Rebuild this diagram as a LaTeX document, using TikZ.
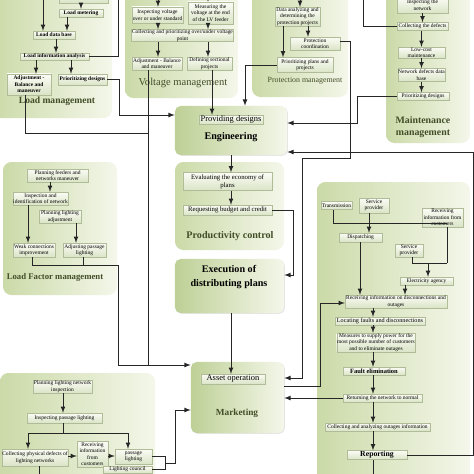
\documentclass[tikz,border=0pt]{standalone}
\usepackage{fontspec}
\setmainfont{Liberation Serif}
\usetikzlibrary{shapes,arrows,positioning,shadows}
\definecolor{gD}{RGB}{203,218,168}
\definecolor{gL}{RGB}{244,247,234}
\definecolor{mD}{RGB}{190,208,150}
\definecolor{bT}{RGB}{251,252,246}
\definecolor{bB}{RGB}{218,228,198}
\definecolor{bE}{RGB}{176,188,152}
\definecolor{tC}{RGB}{66,78,40}
\definecolor{lC}{RGB}{38,38,38}
\tikzstyle{grp}=[rounded corners=6pt,left color=gD,right color=gL]
\tikzstyle{main}=[rectangle,rounded corners=4pt,left color=mD,right color=gL,drop shadow={opacity=0.2,shadow xshift=0.6pt,shadow yshift=-0.6pt}]
\tikzstyle{box}=[rectangle,draw=bE,line width=0.3pt,top color=bT,bottom color=bB,align=center,inner sep=0.3pt,font=\fontsize{3.9}{4.6}\selectfont,drop shadow={opacity=0.25,shadow xshift=0.4pt,shadow yshift=-0.4pt}]
\tikzstyle{bbox}=[box,font=\fontsize{3.9}{4.6}\selectfont\bfseries]
\tikzstyle{ttl}=[text=tC,align=center,inner sep=0pt]
\tikzstyle{arr}=[-latex,line width=0.55pt,draw=lC]
\tikzstyle{ln}=[line width=0.55pt,draw=lC]

\begin{document}
\begin{tikzpicture}[x=0.025cm,y=-0.025cm]
\useasboundingbox (0,0) rectangle (474,474);
\clip (0,0) rectangle (474,474);
\fill[white] (0,0) rectangle (474,474);

% groups
\path[grp] (-8,-14) rectangle (112,118);
\path[grp] (125,-14) rectangle (238,98);
\path[grp] (252,-14) rectangle (348,97);
\path[grp] (386,-14) rectangle (470,143);
\path[grp] (175,162) rectangle (284,250);
\path[grp] (3,162) rectangle (117,295);
\path[grp] (0,373) rectangle (155,495);
\path[grp] (317,182) rectangle (470,495);

% load management
\node[bbox,minimum width=1.225cm,minimum height=0.375cm] (lm0) at (83.5,-4.5) {};
\node[bbox,minimum width=1.1cm,minimum height=0.2cm] (lmeter) at (81,13) {Load metering};
\node[bbox,minimum width=1.05cm,minimum height=0.2cm] (lmdb) at (54,35) {Load data base};
\node[bbox,minimum width=1.725cm,minimum height=0.175cm] (lmanal) at (54.5,56.5) {Load information analysis};
\node[bbox,minimum width=1.1cm,minimum height=0.525cm] (lmadj) at (29,84.5) {Adjustment -\\Balance and\\maneuver};
\node[bbox,minimum width=1.225cm,minimum height=0.275cm] (lmprio) at (82.5,79.5) {Prioritizing designs};
\node[ttl,font=\fontsize{6.8}{8}\selectfont\bfseries] (lmttl) at (57,101) {Load management};

% voltage management
\node[box,minimum width=1.275cm,minimum height=0.4cm] (vinsp) at (157.5,15) {Inspecting voltage\\over or under standard};
\node[box,minimum width=1.125cm,minimum height=0.55cm] (vmeas) at (210.5,13) {Measuring the\\voltage at the end\\of the LV feeder};
\node[box,minimum width=2.525cm,minimum height=0.3cm] (vcoll) at (182.5,35.5) {Collecting and prioritizing over/under voltage\\point};
\node[box,minimum width=1.25cm,minimum height=0.325cm] (vadj) at (157,63.5) {Adjustment - Balance\\and maneuver};
\node[box,minimum width=1.125cm,minimum height=0.325cm] (vdef) at (209.5,63.5) {Defining sectional\\projects};
\node[ttl,font=\fontsize{7.5}{9}\selectfont] (vttl) at (183,83) {Voltage management};

% protection management
\node[box,minimum width=1.125cm,minimum height=0.425cm] (pdata) at (297.5,16.5) {Data analyzing and\\determining the\\protection projects};
\node[box,minimum width=1.25cm,minimum height=0.325cm] (pcoord) at (315,43.5) {Protection\\coordination};
\node[box,minimum width=1.4cm,minimum height=0.375cm] (pprio) at (305,65) {Prioritizing plans and\\projects};
\node[ttl,font=\fontsize{5.6}{7}\selectfont] (pttl) at (305,81) {Protection management};

% maintenance management
\node[box,minimum width=1.275cm,minimum height=0.4cm] (mtop) at (422.5,5) {Inspecting the\\network};
\node[box,minimum width=1.275cm,minimum height=0.2cm] (mcoll) at (422.5,26.5) {Collecting the defects};
\node[box,minimum width=1.175cm,minimum height=0.275cm] (mlow) at (421.5,52.5) {Low-cost\\maintenance};
\node[box,minimum width=1.175cm,minimum height=0.325cm] (mnet) at (421.5,75) {Network defects data\\base};
\node[box,minimum width=1.3cm,minimum height=0.2cm] (mprio) at (423,96.5) {Prioritizing designs};
\node[ttl,font=\fontsize{7}{9}\selectfont\bfseries] (mttl) at (423,127) {Maintenance\\management};

% engineering, productivity, execution, marketing
\node[main,minimum width=2.8cm,minimum height=1.225cm] (eng) at (231,130.5) {};
\node[box,font=\fontsize{6}{7}\selectfont,minimum width=1.6cm,minimum height=0.225cm] (provdes) at (231,119.5) {Providing designs};
\node[ttl,text=black,font=\fontsize{7.2}{9}\selectfont\bfseries] (engttl) at (231,137) {Engineering};

\node[box,font=\fontsize{4.8}{5.8}\selectfont,minimum width=2.225cm,minimum height=0.45cm] (peval) at (227.5,181.5) {Evaluating the economy of\\plans};
\node[box,font=\fontsize{4.8}{5.8}\selectfont,minimum width=2.225cm,minimum height=0.25cm] (preq) at (227.5,210) {Requesting budget and credit};
\node[ttl,font=\fontsize{7.2}{9}\selectfont\bfseries] (pcttl) at (230,236) {Productivity control};

\node[main,minimum width=2.725cm,minimum height=1.35cm] (exec) at (229.5,286) {};
\node[ttl,text=black,font=\fontsize{7.2}{9.5}\selectfont\bfseries] (execttl) at (229,277) {Execution of\\distributing plans};

\node[main,minimum width=2.325cm,minimum height=1.775cm] (mkt) at (237.5,397.5) {};
\node[box,font=\fontsize{6}{7}\selectfont,minimum width=1.6cm,minimum height=0.25cm] (asset) at (233,379) {Asset operation};
\node[ttl,font=\fontsize{6.6}{8}\selectfont\bfseries] (mkttl) at (237,413) {Marketing};

% load factor management
\node[box,minimum width=1.525cm,minimum height=0.325cm] (lfplan) at (57.5,175.5) {Planning feeders and\\networks maneuver};
\node[box,minimum width=1.375cm,minimum height=0.325cm] (lfinsp) at (40.5,198.5) {Inspection and\\identification of network};
\node[box,minimum width=1.05cm,minimum height=0.325cm] (lflight) at (60,216.5) {Planning lighting\\adjustment};
\node[box,minimum width=1.05cm,minimum height=0.35cm] (lfweak) at (34,250) {Weak connections\\improvement};
\node[box,minimum width=1.075cm,minimum height=0.35cm] (lfadj) at (84.5,250) {Adjusting passage\\lighting};
\node[ttl,font=\fontsize{6.2}{8}\selectfont\bfseries] (lfttl) at (55,277) {Load Factor management};

% passage lighting
\node[box,minimum width=1.475cm,minimum height=0.325cm] (blplan) at (62.5,386.5) {Planning lighting network\\inspection};
\node[box,minimum width=1.875cm,minimum height=0.25cm] (blinsp) at (64.5,418) {Inspecting passage lighting};
\node[box,minimum width=1.6cm,minimum height=0.425cm] (blcoll) at (35,457.5) {Collecting physical defects of\\lighting networks};
\node[box,minimum width=0.775cm,minimum height=0.65cm] (blrecv) at (92.5,454) {Receiving\\information\\from\\customers};
\node[box,minimum width=0.925cm,minimum height=0.375cm] (blpass) at (133.5,456.5) {passage\\lighting};
\node[box,minimum width=1.225cm,minimum height=0.175cm] (blcoun) at (127.5,469.5) {Lighting council};

% outage management
\node[box,minimum width=0.775cm,minimum height=0.2cm] (rtrans) at (336.5,205.5) {Transmission};
\node[box,minimum width=0.75cm,minimum height=0.375cm] (rserv) at (374,205.5) {Service\\provider};
\node[box,minimum width=1.025cm,minimum height=0.475cm] (rrecv) at (442.5,217.5) {Receiving\\information from\\customers};
\node[box,minimum width=1.075cm,minimum height=0.225cm] (rdisp) at (360.5,237.5) {Dispatching};
\node[box,minimum width=0.7cm,minimum height=0.325cm] (rserv2) at (409,250.5) {Service\\provider};
\node[box,minimum width=1.325cm,minimum height=0.2cm] (ragency) at (426.5,281) {Electricity agency};
\node[box,minimum width=2.55cm,minimum height=0.325cm] (rinfo) at (396,301.5) {Receiving information on disconnections and\\outages};
\node[box,font=\fontsize{4.4}{5}\selectfont,minimum width=2.25cm,minimum height=0.2cm] (rloc) at (380,321) {Locating faults and disconnections};
\node[box,minimum width=1.8cm,minimum height=0.475cm] (rmeas) at (376,342.5) {Measures to supply power for the\\most possible number of customers\\and to eliminate outages};
\node[box,font=\fontsize{4.6}{5}\selectfont\bfseries,minimum width=1.55cm,minimum height=0.2cm] (rfault) at (374,371) {Fault elimination};
\node[box,minimum width=1.975cm,minimum height=0.2cm] (rret) at (382.5,398) {Returning the network to normal};
\node[box,minimum width=2.625cm,minimum height=0.2cm] (rcoll) at (377.5,427) {Collecting and analyzing outages information};
\node[box,font=\fontsize{5.5}{6}\selectfont\bfseries,minimum width=1.5cm,minimum height=0.225cm] (rrep) at (377,455) {Reporting};

% free ends and junctions
\coordinate (inLM) at (43,-14);
\coordinate (outLM) at (118,-14);
\coordinate (inV1) at (158,-14);
\coordinate (inV2) at (208,-14);
\coordinate (inP) at (300,-14);
\coordinate (inM) at (363,-14);
\coordinate (jLF) at (118,265);
\coordinate (jBL) at (63,433);
\coordinate (jPL) at (165,463);
\coordinate (jR1) at (447,223);
\coordinate (jR2) at (447,263);
\coordinate (endBL) at (39,480);
\coordinate (endR) at (373,480);

% connectors: load management
\draw[arr] (inLM) -- (lmdb.north -| inLM);
\draw[arr] (lm0.south -| lmeter.north) -- (lmeter.north);
\draw[arr] (lmeter.south -| 67,0) -- (lmdb.north -| 67,0);
\draw[arr] (lmdb.south -| 56,0) -- (lmanal.north -| 56,0);
\draw[arr] (lmanal.south -| 36,0) -- (lmadj.north -| 36,0);
\draw[arr] (lmanal.south -| 71,0) -- (lmprio.north -| 71,0);
\draw[ln] (lmanal.east) -| (outLM);
\draw[arr] (lmprio.east) -| (119,115) -- (eng.west |- 0,115);
\draw[ln] (lmadj.south -| 25,0) |- (148,133);

% connectors: voltage management
\draw[arr] (inV1) -- (vinsp.north -| inV1);
\draw[arr] (inV2) -- (vmeas.north -| inV2);
\draw[arr] (vinsp.south -| 158,0) -- (vcoll.north -| 158,0);
\draw[arr] (vmeas.south -| 208,0) -- (vcoll.north -| 208,0);
\draw[arr] (vcoll.south -| 158,0) -- (vadj.north -| 158,0);
\draw[arr] (vcoll.south -| 208,0) -- (vdef.north -| 208,0);
\draw[ln] (vadj.south -| 148,0) -- (148,365);
\draw[arr] (vdef.south -| 212,0) -- (provdes.north -| 212,0);

% connectors: protection management
\draw[arr] (inP) -- (pdata.north -| inP);
\draw[arr] (pdata.south -| 283,0) -- (pprio.north -| 283,0);
\draw[arr] (pdata.south -| 308,0) -- (pcoord.north -| 308,0);
\draw[arr] (pprio.west) -| (eng.north -| 245,0);
\draw[arr] (pcoord.east |- 0,41) -| (350,158) -| (302,378) -- (mkt.east |- 0,378);

% connectors: maintenance management
\draw[ln] (inM) |- (mcoll.west);
\draw[arr] (mtop) -- (mcoll);
\draw[arr] (mcoll.south -| mnet.north) -- (mlow.north);
\draw[arr] (mlow) -- (mnet);
\draw[arr] (mnet.south) -- (mprio.north -| mnet.south);
\draw[arr] (mprio.west) -| (357,123) -- (eng.east |- 0,123);

% connectors: engineering to marketing
\draw[arr] (eng.south) -- (peval.north -| eng.south);
\draw[arr] (peval.south -| eng.south) -- (preq.north -| eng.south);
\draw[arr] (preq.east) -| (293,275) -- (exec.east |- 0,275);
\draw[arr] (exec.south -| 231,0) -- (asset.north -| 231,0);

% connectors: load factor management
\draw[arr] (lfplan.south -| 50,0) -- (lfinsp.north -| 50,0);
\draw[arr] (lfinsp.south -| 28,0) -- (lfweak.north -| 28,0);
\draw[arr] (lflight.south -| 76,0) -- (lfadj.north -| 76,0);
\draw[ln] (lfadj.south -| 83,0) -- (83,265);
\draw[arr] (lfweak.south -| 32,0) |- (jLF) |- (mkt.west |- 0,365);

% connectors: passage lighting
\draw[arr] (blplan.south -| jBL) -- (blinsp.north -| jBL);
\draw[ln] (blinsp.south -| jBL) -- (jBL);
\draw[arr] (jBL) -| (blcoll.north -| 28,0);
\draw[arr] (jBL) -| (blpass.north -| 128,0);
\draw[arr] (blcoll.east |- 0,456) -- (blrecv.west |- 0,456);
\draw[arr] (blrecv.east |- 0,456) -- (blpass.west |- 0,456);
\draw[ln] (blcoll.south -| endBL) -- (endBL);
\draw[ln] (blpass.east) -| (jPL);
\draw[ln] (blcoun.east) -| (jPL);
\draw[arr] (jPL) -| (175,410) -- (mkt.west |- 0,410);

% connectors: outage management
\draw[ln] (rtrans.south -| 333,0) |- (jR1);
\draw[arr] (rserv.south -| 369,0) -- (rdisp.north -| 369,0);
\draw[ln] (rrecv.south -| jR1) -- (jR2);
\draw[ln] (rserv2.south -| 412,0) |- (jR2);
\draw[arr] (428,263) -- (ragency.north -| 428,0);
\draw[arr] (rdisp.south -| 360,0) -- (rinfo.north -| 360,0);
\draw[arr] (ragency.south -| 405,0) -- (rinfo.north -| 405,0);
\draw[arr] (rinfo.south -| endR) -- (rloc.north -| endR);
\draw[arr] (rloc.south -| endR) -- (rmeas.north -| endR);
\draw[arr] (rmeas.south -| endR) -- (rfault.north -| endR);
\draw[arr] (rfault.south -| endR) -- (rret.north -| endR);
\draw[arr] (rret.south -| endR) -- (rcoll.north -| endR);
\draw[arr] (rcoll.south -| endR) -- (rrep.north -| endR);
\draw[ln] (rrep.south -| endR) -- (endR);
\draw[arr] (rrep.east) -| (473,152) -- (eng.east |- 0,152);
\draw[arr] (rret.west) -- (mkt.east |- rret.west);
\draw[arr] (mkt.east |- 0,386) -| (320,303) -- (rinfo.west |- 0,303);
\end{tikzpicture}
\end{document}
